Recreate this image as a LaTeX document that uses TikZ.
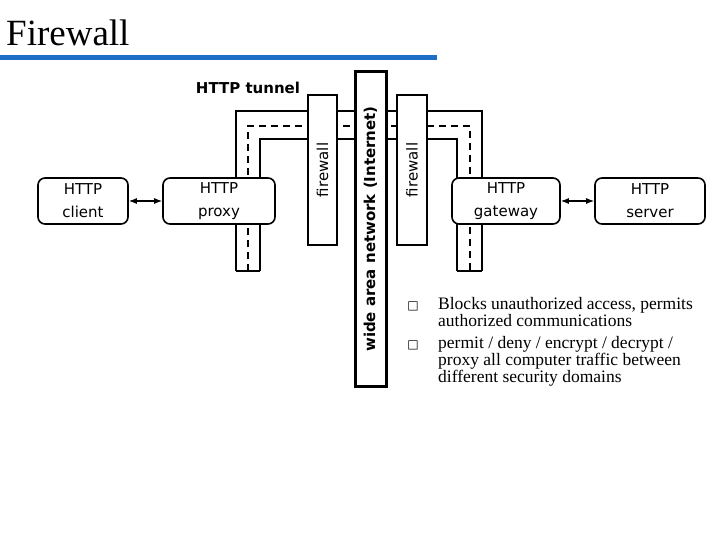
\documentclass[tikz,border=0pt]{standalone}
\usepackage{fontspec}
\setmainfont{Liberation Serif}
\newfontfamily\diag{DejaVu Sans}
\usetikzlibrary{arrows.meta}
\begin{document}
\begin{tikzpicture}[x=1pt,y=-1pt,
  box/.style={draw,line width=1.6pt,rounded corners=7pt,fill=white,align=center,font=\diag\fontsize{15}{23}\selectfont,minimum height=46pt,inner sep=0pt},
  wall/.style={draw,line width=2.2pt,fill=white},
  tube/.style={line width=2.2pt},
  tubedash/.style={line width=2.2pt,dash pattern=on 7pt off 5pt},
  dbl/.style={line width=1.2pt,{Latex[length=8pt,width=6pt]}-{Latex[length=8pt,width=6pt]}},
  bul/.style={anchor=north west,align=left,font=\fontsize{17.5}{17}\selectfont,inner sep=0pt}]
\useasboundingbox (0,0) rectangle (720,540);
\node[anchor=west,font=\fontsize{37}{40}\selectfont,inner sep=0pt] (title) at (6,33) {Firewall};
\fill[color={rgb,255:red,30;green,110;blue,200}] (0,55) rectangle (437,60);
% tunnel
\draw[tube] (236,271) -- (236,111) -- (482,111) -- (482,271);
\draw[tube] (260,271) -- (260,139) -- (457,139) -- (457,271);
\draw[tubedash] (248,271) -- (248,126) -- (470,126) -- (470,271);
\draw[tube] (236,271) -- (260,271) (457,271) -- (482,271);
\node[font=\diag\bfseries\fontsize{15}{18}\selectfont] (tl) at (248,88) {HTTP tunnel};
% walls
\draw[wall] (308,95) rectangle (337,245);
\node[rotate=90,font=\diag\fontsize{15}{18}\selectfont] (fw1) at (322.5,170) {firewall};
\draw[wall] (397,95) rectangle (427,245);
\node[rotate=90,font=\diag\fontsize{15}{18}\selectfont] (fw2) at (412,170) {firewall};
\draw[wall,line width=3pt] (355,72) rectangle (386,386);
\node[rotate=90,font=\diag\bfseries\fontsize{15}{18}\selectfont] (wan) at (370.5,229) {wide area network (Internet)};
% boxes
\node[box,minimum width=90pt] (client) at (83,201) {HTTP\\client};
\node[box,minimum width=112pt] (proxy) at (219,201) {HTTP\\proxy};
\node[box,minimum width=108pt] (gw) at (506,201) {HTTP\\gateway};
\node[box,minimum width=110pt] (server) at (650,201) {HTTP\\server};
\draw[dbl] (client) -- (proxy);
\draw[dbl] (gw) -- (server);
% bullets
\node[font=\diag\fontsize{12}{12}\selectfont] (b1) at (413,306) {□};
\node[bul] (t1) at (438,297) {Blocks unauthorized access, permits\\authorized communications};
\node[font=\diag\fontsize{12}{12}\selectfont] (b2) at (413,345) {□};
\node[bul] (t2) at (438,336) {permit / deny / encrypt / decrypt /\\proxy all computer traffic between\\different security domains};
\end{tikzpicture}
\end{document}
